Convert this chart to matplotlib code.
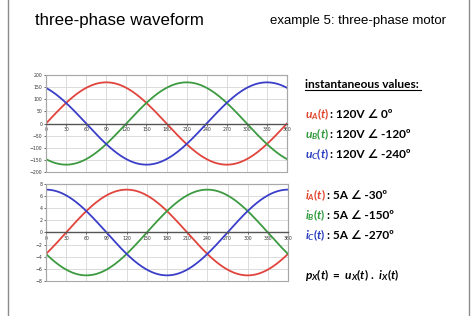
import numpy as np
import matplotlib
matplotlib.use('Agg')
import matplotlib.pyplot as plt
from matplotlib.patches import Rectangle
from matplotlib.lines import Line2D

plt.rcParams['mathtext.fontset'] = 'custom'
plt.rcParams['mathtext.it'] = 'Lato:italic:bold'
plt.rcParams['mathtext.rm'] = 'Lato:bold'
plt.rcParams['mathtext.bf'] = 'Lato:bold'

# values (RMS magnitude, phase in degrees)
voltage_rms = 120
voltage_phases = [0, -120, -240]
current_rms = 5
current_phases = [-30, -150, -270]
phase_names = ['A', 'B', 'C']
phase_colors = ['#e0443c', '#3c9a40', '#3a3ec8']
text_colors = ['#e0442c', '#2e9a3a', '#2a3cc0']

x_ticks = list(range(0, 361, 30))
v_ticks = list(range(-200, 201, 50))
i_ticks = list(range(-8, 9, 2))

W, H = 474, 316
fig = plt.figure(figsize=(W / 100, H / 100), dpi=100)
fig.patch.set_facecolor('white')


def px_axes(l, t, r, b):
    return fig.add_axes([l / W, 1 - b / H, (r - l) / W, (b - t) / H])


def wave_panel(ax, rms, phases, yticks):
    deg = np.linspace(0, 360, 361)
    for ph, c in zip(phases, phase_colors):
        ax.plot(deg, rms * np.sqrt(2) * np.sin(np.radians(deg + ph)), color=c, lw=1.3)
    ax.set_xlim(0, 360)
    ax.set_ylim(yticks[0], yticks[-1])
    ax.set_xticks(x_ticks)
    ax.set_yticks(yticks)
    ax.grid(True, color='#d6d6d6', lw=0.6)
    ax.set_axisbelow(True)
    for s in ['top', 'right', 'left']:
        ax.spines[s].set_color('#a8a8a8')
        ax.spines[s].set_linewidth(0.8)
    ax.spines['bottom'].set_position(('data', 0))
    ax.spines['bottom'].set_color('#555555')
    ax.spines['bottom'].set_linewidth(1.0)
    ax.add_patch(Rectangle((0, 0), 1, 1, transform=ax.transAxes, fill=False,
                           edgecolor='#a8a8a8', lw=0.8, clip_on=False, zorder=0))
    ax.tick_params(labelsize=3.3, colors='#333333', length=1.5, width=0.5, pad=1)


ax1 = px_axes(46, 75, 287, 172)
wave_panel(ax1, voltage_rms, voltage_phases, v_ticks)
ax2 = px_axes(46, 184, 288, 281)
wave_panel(ax2, current_rms, current_phases, i_ticks)

# slide borders
fig.add_artist(Line2D([8 / W, 8 / W], [0, 1], color='#8c8c8c', lw=1.0))
fig.add_artist(Line2D([469 / W, 469 / W], [0, 1], color='#8c8c8c', lw=1.0))

fig.text(35 / W, 1 - 20 / H, 'three-phase waveform', family='Liberation Sans',
         fontsize=12.2, va='center', ha='left')
fig.text(270 / W, 1 - 21 / H, 'example 5: three-phase motor', family='Liberation Sans',
         fontsize=9.5, va='center', ha='left')

fig.text(305 / W, 1 - 84 / H, 'instantaneous values:', family=['Lato', 'DejaVu Sans'],
         fontweight='bold', fontsize=8.6, va='center', ha='left')
fig.add_artist(Line2D([305 / W, 421 / W], [1 - 89.5 / H, 1 - 89.5 / H], color='black', lw=0.8))

renderer = fig.canvas.get_renderer()


def phase_line(y, label, rest, color):
    t1 = fig.text(305 / W, 1 - y / H, label, color=color, fontsize=8.6,
                  va='baseline', ha='left')
    x1 = t1.get_window_extent(renderer).x1
    fig.text(x1 / W + 1 / W, 1 - y / H, rest, family=['Lato', 'DejaVu Sans'],
             fontweight='bold', fontsize=8.6, va='baseline', ha='left')


rows_y = [118, 138, 158]
for name, ph, c, y in zip(phase_names, voltage_phases, text_colors, rows_y):
    phase_line(y, r'$u_{%s}\mathit{(t)}$' % name, ': %dV \u2220 %d\u00ba' % (voltage_rms, ph), c)

rows_y = [199, 219, 239]
for name, ph, c, y in zip(phase_names, current_phases, text_colors, rows_y):
    phase_line(y, r'$i_{%s}\mathit{(t)}$' % name, ': %dA \u2220 %d\u00ba' % (current_rms, ph), c)

fig.text(305 / W, 1 - 279 / H,
         r'$p_X\mathit{(t)}\ \mathit{=}\ u_X\mathit{(t)}\ .\ i_X\mathit{(t)}$',
         fontsize=8.6, va='baseline', ha='left')

fig.savefig('out.png', dpi=100)
